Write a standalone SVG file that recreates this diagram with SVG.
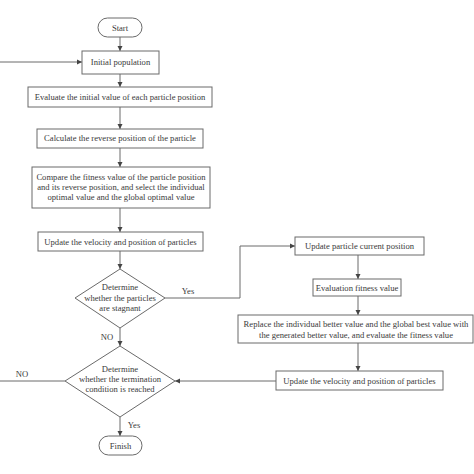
<svg xmlns="http://www.w3.org/2000/svg" width="474" height="474" viewBox="0 0 474 474">
<defs>
<marker id="ah" markerWidth="6" markerHeight="6" refX="5" refY="3" orient="auto" markerUnits="userSpaceOnUse">
<path d="M0,0.5 L5,3 L0,5.5 Z" fill="#444"/>
</marker>
<style>
.b{fill:#fff;stroke:#6a6a6a;stroke-width:1}
.t{font-family:"Liberation Serif","Times New Roman",serif;font-size:8.6px;fill:#3a3a3a;text-anchor:middle}
.c{fill:none;stroke:#6a6a6a;stroke-width:1}
</style>
</defs>
<rect width="474" height="474" fill="#fff"/>
<g id="connectors">
<path class="c" d="M120,37 V51" marker-end="url(#ah)"/>
<path class="c" d="M0,62 H82" marker-end="url(#ah)"/>
<path class="c" d="M120,74 V87" marker-end="url(#ah)"/>
<path class="c" d="M120,107 V129" marker-end="url(#ah)"/>
<path class="c" d="M120,148 V167" marker-end="url(#ah)"/>
<path class="c" d="M120,208 V232" marker-end="url(#ah)"/>
<path class="c" d="M120,251 V269" marker-end="url(#ah)"/>
<path class="c" d="M165,298 H240 V246 H295" marker-end="url(#ah)"/>
<path class="c" d="M358,255 V279" marker-end="url(#ah)"/>
<path class="c" d="M358,296 V315" marker-end="url(#ah)"/>
<path class="c" d="M358,343 V371" marker-end="url(#ah)"/>
<path class="c" d="M276,381 H175" marker-end="url(#ah)"/>
<path class="c" d="M120,328 V346" marker-end="url(#ah)"/>
<path class="c" d="M65,381 H0"/>
<path class="c" d="M120,417 V436" marker-end="url(#ah)"/>
<text class="t" x="188" y="294">Yes</text>
<text class="t" x="107" y="340">NO</text>
<text class="t" x="22" y="377">NO</text>
<text class="t" x="134" y="428">Yes</text>
</g>
<g id="start">
<rect class="b" x="98" y="18" width="44" height="19" rx="9.5"/>
<text class="t" x="120" y="30.5">Start</text>
</g>
<g id="initial">
<rect class="b" x="82" y="51" width="77" height="23"/>
<text class="t" x="120.5" y="65">Initial population</text>
</g>
<g id="evaluate">
<rect class="b" x="28" y="87" width="184" height="20"/>
<text class="t" x="120" y="100">Evaluate the initial value of each particle position</text>
</g>
<g id="calculate">
<rect class="b" x="37" y="129" width="166" height="19"/>
<text class="t" x="120" y="141">Calculate the reverse position of the particle</text>
</g>
<g id="compare">
<rect class="b" x="32" y="167" width="178" height="41"/>
<text class="t" x="121" y="180">Compare the fitness value of the particle position</text>
<text class="t" x="121" y="190">and its reverse position, and select the individual</text>
<text class="t" x="121" y="200">optimal value and the global optimal value</text>
</g>
<g id="update1">
<rect class="b" x="38" y="232" width="165" height="19"/>
<text class="t" x="120.5" y="244.5">Update the velocity and position of particles</text>
</g>
<g id="stagnant">
<path class="b" d="M120,269 L165,298 L120,328 L75,298 Z"/>
<text class="t" x="120" y="290">Determine</text>
<text class="t" x="120" y="301">whether the particles</text>
<text class="t" x="120" y="311">are stagnant</text>
</g>
<g id="updatecurrent">
<rect class="b" x="295" y="237" width="129" height="18"/>
<text class="t" x="359.5" y="249">Update particle current position</text>
</g>
<g id="evalfitness">
<rect class="b" x="313" y="279" width="88" height="17"/>
<text class="t" x="357" y="290.5">Evaluation fitness value</text>
</g>
<g id="replace">
<rect class="b" x="238" y="315" width="235" height="28"/>
<text class="t" x="356" y="327">Replace the individual better value and the global best value with</text>
<text class="t" x="356" y="337.5">the generated better value, and evaluate the fitness value</text>
</g>
<g id="update2">
<rect class="b" x="276" y="371" width="167" height="19"/>
<text class="t" x="359.5" y="383.5">Update the velocity and position of particles</text>
</g>
<g id="termination">
<path class="b" d="M120,346 L175,381 L120,417 L65,381 Z"/>
<text class="t" x="120" y="372">Determine</text>
<text class="t" x="120" y="382">whether the termination</text>
<text class="t" x="120" y="392">condition is reached</text>
</g>
<g id="finish">
<rect class="b" x="99" y="436" width="43" height="19" rx="9.5"/>
<text class="t" x="120.5" y="448.5">Finish</text>
</g>
</svg>
